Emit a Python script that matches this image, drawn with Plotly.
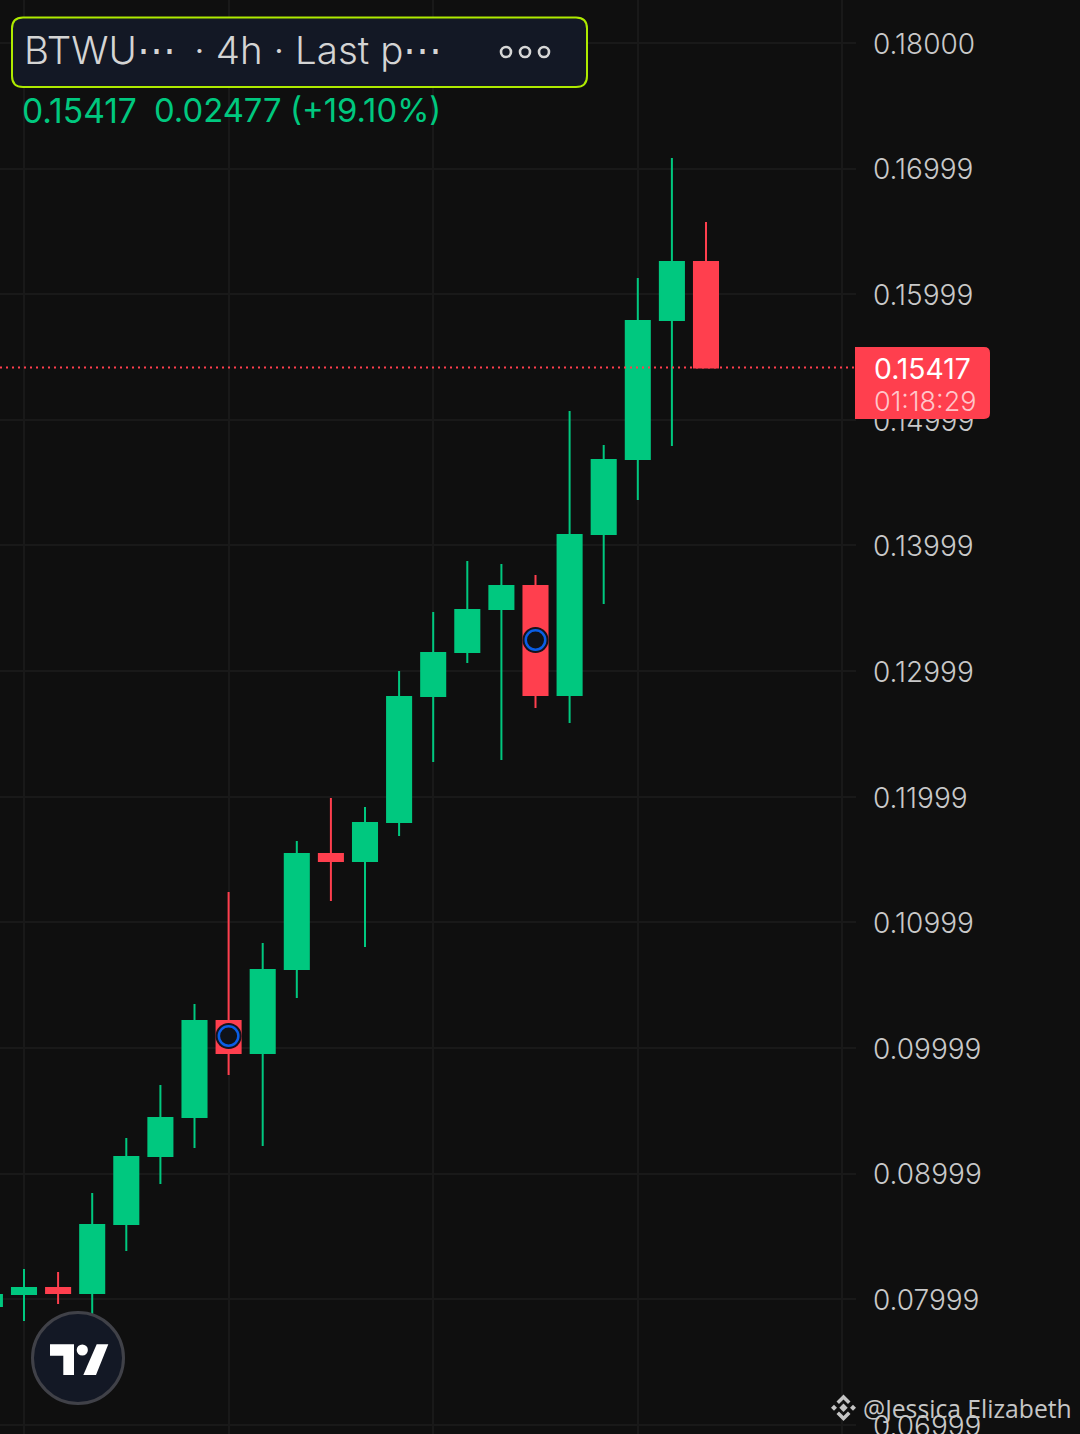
import plotly.graph_objects as go

candles = list(range(22))
opens = [0.07944, 0.08040, 0.08088, 0.08048, 0.08597, 0.09139, 0.09449, 0.10213, 0.09959, 0.10627, 0.11543,
         0.11487, 0.11798, 0.12801, 0.13151, 0.13494, 0.13677, 0.12809, 0.14091, 0.14688, 0.15795, 0.16256]
highs = [0.08032, 0.08239, 0.08215, 0.08844, 0.09282, 0.09704, 0.10349, 0.11240, 0.10834, 0.11647, 0.11989,
         0.11917, 0.13000, 0.13470, 0.13876, 0.13852, 0.13764, 0.15070, 0.14799, 0.16129, 0.17084, 0.16575]
lows = [0.07944, 0.07825, 0.07960, 0.07857, 0.08382, 0.08916, 0.09202, 0.09783, 0.09218, 0.10397, 0.11169,
        0.10803, 0.11686, 0.12275, 0.13064, 0.12291, 0.12705, 0.12586, 0.13533, 0.14361, 0.14791, 0.15417]
closes = [0.08032, 0.08088, 0.08048, 0.08589, 0.09131, 0.09441, 0.10213, 0.09959, 0.10619, 0.11543, 0.11487,
          0.11790, 0.12793, 0.13143, 0.13486, 0.13677, 0.12809, 0.14083, 0.14680, 0.15787, 0.16256, 0.15417]
price_ticks = [0.18000, 0.16999, 0.15999, 0.14999, 0.13999, 0.12999, 0.11999, 0.10999, 0.09999, 0.08999, 0.07999, 0.06999]
time_ticks = [1, 7, 13, 19, 25]
signal_x = [7, 16]
signal_y = [0.10094, 0.13247]
last_price = 0.15417

BG = "#0f0f0f"
GRID = "#191919"
GREEN = "#00c87f"
RED = "#ff3f4e"
PANEL = "#131825"
LABEL = "#c9c9c9"
FONT = "Inter"
W, H, PW = 1080, 1434, 856


def px(x):
    return x / PW


def py(y):
    return 1 - y / H


def P(pts, close=True):
    s = "M " + " L ".join(f"{px(x):.5f},{py(y):.5f}" for x, y in pts)
    return s + (" Z" if close else "")


def rrect(x0, y0, x1, y1, r, left=True):
    rl = r if left else 0
    return (f"M {px(x0 + rl):.5f},{py(y0):.5f} L {px(x1 - r):.5f},{py(y0):.5f} "
            f"Q {px(x1):.5f},{py(y0):.5f} {px(x1):.5f},{py(y0 + r):.5f} "
            f"L {px(x1):.5f},{py(y1 - r):.5f} Q {px(x1):.5f},{py(y1):.5f} {px(x1 - r):.5f},{py(y1):.5f} "
            f"L {px(x0 + rl):.5f},{py(y1):.5f} Q {px(x0):.5f},{py(y1):.5f} {px(x0):.5f},{py(y1 - rl):.5f} "
            f"L {px(x0):.5f},{py(y0 + rl):.5f} Q {px(x0):.5f},{py(y0):.5f} {px(x0 + rl):.5f},{py(y0):.5f} Z")


def circle(cx, cy, r, fill, line=None, lw=0):
    return dict(type="circle", xref="paper", yref="paper", layer="above",
                x0=px(cx - r), x1=px(cx + r), y0=py(cy + r), y1=py(cy - r),
                fillcolor=fill, line=dict(color=line or fill, width=lw))


def poly(pts, fill):
    return dict(type="path", xref="paper", yref="paper", layer="above", path=P(pts),
                fillcolor=fill, line=dict(width=0))


def text(x, y, s, size, color, anchor="left", family=FONT, weight=300):
    return dict(xref="paper", yref="paper", x=px(x), y=py(y), text=s, showarrow=False, xanchor=anchor,
                yanchor="middle", font=dict(size=size, color=color, family=family, weight=weight), borderpad=0)


fig = go.Figure()
fig.add_trace(go.Candlestick(
    x=candles, open=opens, high=highs, low=lows, close=closes, whiskerwidth=0,
    increasing=dict(line=dict(color=GREEN, width=2), fillcolor=GREEN),
    decreasing=dict(line=dict(color=RED, width=2), fillcolor=RED),
    hoverinfo="skip", showlegend=False))
fig.add_trace(go.Scatter(x=signal_x, y=signal_y, mode="markers", hoverinfo="skip", showlegend=False,
                         marker=dict(size=26, color="#15131c", line=dict(width=0))))
fig.add_trace(go.Scatter(x=signal_x, y=signal_y, mode="markers", hoverinfo="skip", showlegend=False,
                         marker=dict(size=19.5, color="#0f1218", line=dict(color="#0a5ee6", width=2.5))))

shapes = [
    dict(type="line", xref="paper", yref="y", x0=0, x1=1, y0=last_price, y1=last_price, layer="above",
         line=dict(color=RED, width=2, dash="2px,4px")),
    dict(type="path", xref="paper", yref="paper", layer="above", path=rrect(12, 17.5, 587, 87, 11),
         fillcolor=PANEL, line=dict(color="#aeea00", width=2)),
    circle(506, 52, 5, PANEL, "#d6d6d6", 2.6),
    circle(525, 52, 5, PANEL, "#d6d6d6", 2.6),
    circle(544, 52, 5, PANEL, "#d6d6d6", 2.6),
    dict(type="path", xref="paper", yref="paper", layer="above", path=rrect(855, 347, 990, 419, 6, left=False),
         fillcolor=RED, line=dict(width=0)),
    circle(78, 1358, 45.5, "#131825", "#404148", 3),
    poly([(50, 1344.3), (74, 1344.3), (74, 1375), (63.3, 1375), (63.3, 1355.7), (50, 1355.7)], "#ffffff"),
    circle(82.3, 1350, 5.6, "#ffffff"),
    poly([(96.7, 1344.3), (108.3, 1344.3), (96, 1375), (83.3, 1375)], "#ffffff"),
    # watermark emblem
    poly([(843.5, 1403.5), (847.7, 1407.7), (843.5, 1411.9), (839.3, 1407.7)], "#c4c4c4"),
    poly([(834, 1404.7), (837, 1407.7), (834, 1410.7), (831, 1407.7)], "#c4c4c4"),
    poly([(853, 1404.7), (856, 1407.7), (853, 1410.7), (850, 1407.7)], "#c4c4c4"),
    poly([(843.5, 1394.5), (850.5, 1401.5), (848, 1404), (843.5, 1399.5), (839, 1404), (836.5, 1401.5)], "#c4c4c4"),
    poly([(843.5, 1421), (850.5, 1414), (848, 1411.5), (843.5, 1416), (839, 1411.5), (836.5, 1414)], "#c4c4c4"),
]

annotations = [
    text(23, 50.5, "BTWU\u22ef", 38.5, "#d4d4d4"),
    text(193, 50.5, "\u00b7 4h \u00b7 Last p\u22ef", 38.5, "#d4d4d4"),
    text(20.5, 110, "0.15417", 33.6, GREEN, weight=400),
    text(152.5, 110, "0.02477", 32.8, GREEN, weight=400),
    text(288.5, 110, "(+19.10%)", 32.8, GREEN, weight=400),
    text(872.5, 369, "0.15417", 28.3, "#ffffff", weight=400),
    text(873, 401, "01:18:29", 27, "#ffc6ca"),
    text(862, 1408, "@Jessica Elizabeth", 24.7, "#c6c6c6", family="Open Sans", weight=400),
]

fig.update_layout(
    width=W, height=H, margin=dict(l=0, r=W - PW, t=0, b=0, autoexpand=False),
    paper_bgcolor=BG, plot_bgcolor=BG, showlegend=False,
    boxgap=0.16, boxgroupgap=0.16,
    shapes=shapes, annotations=annotations,
    xaxis=dict(range=[0.2962, 25.399], tickmode="array", tickvals=time_ticks, showticklabels=False,
               showgrid=True, gridcolor=GRID, gridwidth=1.5, zeroline=False, showline=False, ticks="",
               rangeslider=dict(visible=False), fixedrange=True),
    yaxis=dict(range=[0.06925, 0.18342], side="right", tickmode="array", tickvals=price_ticks, tickformat=".5f",
               showgrid=True, gridcolor=GRID, gridwidth=1.5, zeroline=False, showline=False, ticks="",
               ticklabelstandoff=16, ticklabelshift=1, ticklabeloverflow="allow", automargin=False,
               tickfont=dict(size=28, color=LABEL, family=FONT, weight=300), fixedrange=True),
)

fig.write_html("out.html", config=dict(displayModeBar=False),
               post_script="document.body.style.margin='0';document.body.style.background='#0f0f0f';"
                           "document.documentElement.style.overflow='hidden';")
